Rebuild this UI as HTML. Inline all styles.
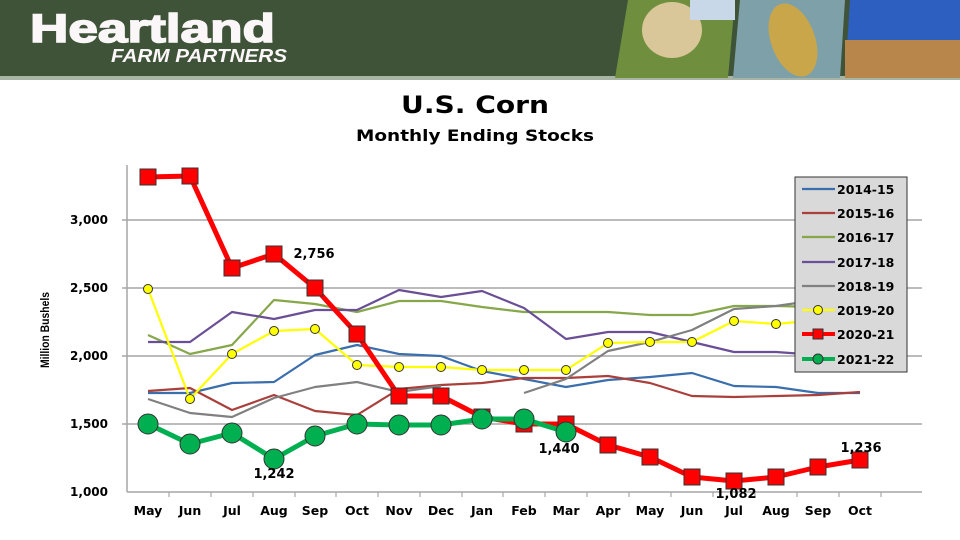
<!DOCTYPE html>
<html><head><meta charset="utf-8"><style>
body{margin:0;width:960px;height:540px;overflow:hidden;background:#fff;font-family:"DejaVu Sans",sans-serif}
</style></head><body>
<svg width="960" height="540" xmlns="http://www.w3.org/2000/svg" style="position:absolute;left:0;top:0" font-family="'DejaVu Sans',sans-serif">
<rect x="0" y="0" width="960" height="78" fill="#3f5339"/>
<rect x="0" y="76" width="960" height="4" fill="#a9b5a4"/>
<polygon points="628,0 735,0 728,78 615,78" fill="#6f8f3e"/>
<ellipse cx="672" cy="30" rx="30" ry="28" fill="#d9c79a"/>
<rect x="690" y="0" width="45" height="20" fill="#c9d8e8"/>
<polygon points="740,0 845,0 840,78 733,78" fill="#7ea0a8"/>
<ellipse cx="793" cy="40" rx="22" ry="38" fill="#c9a64a" transform="rotate(-20 793 40)"/>
<polygon points="850,0 960,0 960,78 845,78" fill="#2d5fc0"/>
<rect x="845" y="40" width="115" height="38" fill="#b8864a"/>
<text x="30" y="42" font-size="40" font-weight="bold" fill="#fbf7f9" stroke="#fbf7f9" stroke-width="1.5" font-family="'Liberation Sans',sans-serif" textLength="245" lengthAdjust="spacingAndGlyphs">Heartland</text>
<text x="111" y="62" font-size="18" font-weight="bold" font-style="italic" fill="#fbf7f9" font-family="'Liberation Sans',sans-serif" textLength="176" lengthAdjust="spacingAndGlyphs">FARM PARTNERS</text>
<text x="475" y="113" font-size="24" font-weight="bold" text-anchor="middle" fill="#000" textLength="148" lengthAdjust="spacingAndGlyphs">U.S. Corn</text>
<text x="475" y="141" font-size="16" font-weight="bold" text-anchor="middle" fill="#000" textLength="238" lengthAdjust="spacingAndGlyphs">Monthly Ending Stocks</text>
<g stroke="#a6a6a6" stroke-width="1.5">
<line x1="122" y1="220" x2="922" y2="220"/><line x1="122" y1="288" x2="922" y2="288"/>
<line x1="122" y1="356" x2="922" y2="356"/><line x1="122" y1="424" x2="922" y2="424"/>
<line x1="127" y1="165" x2="127" y2="492"/><line x1="127" y1="492" x2="922" y2="492"/>
</g>
<g stroke="#a6a6a6" stroke-width="1.2">
<line x1="169" y1="492" x2="169" y2="497"/><line x1="211" y1="492" x2="211" y2="497"/><line x1="253" y1="492" x2="253" y2="497"/><line x1="295" y1="492" x2="295" y2="497"/><line x1="336" y1="492" x2="336" y2="497"/><line x1="378" y1="492" x2="378" y2="497"/><line x1="420" y1="492" x2="420" y2="497"/><line x1="462" y1="492" x2="462" y2="497"/><line x1="503" y1="492" x2="503" y2="497"/><line x1="545" y1="492" x2="545" y2="497"/><line x1="587" y1="492" x2="587" y2="497"/><line x1="629" y1="492" x2="629" y2="497"/><line x1="671" y1="492" x2="671" y2="497"/><line x1="713" y1="492" x2="713" y2="497"/><line x1="755" y1="492" x2="755" y2="497"/><line x1="797" y1="492" x2="797" y2="497"/><line x1="839" y1="492" x2="839" y2="497"/><line x1="881" y1="492" x2="881" y2="497"/>
</g>
<g font-size="12" font-weight="bold" text-anchor="end" fill="#000">
<text x="108" y="224">3,000</text><text x="108" y="292">2,500</text><text x="108" y="360">2,000</text><text x="108" y="428">1,500</text><text x="108" y="496">1,000</text>
</g>
<text transform="translate(49,330) rotate(-90)" font-size="12" font-weight="bold" text-anchor="middle" font-family="'Liberation Sans',sans-serif" textLength="76" lengthAdjust="spacingAndGlyphs">Million Bushels</text>
<g font-size="12.5" font-weight="bold" text-anchor="middle">
<text x="148" y="515">May</text><text x="190" y="515">Jun</text><text x="232" y="515">Jul</text><text x="274" y="515">Aug</text><text x="315" y="515">Sep</text><text x="357" y="515">Oct</text><text x="399" y="515">Nov</text><text x="441" y="515">Dec</text><text x="482" y="515">Jan</text><text x="524" y="515">Feb</text><text x="566" y="515">Mar</text><text x="608" y="515">Apr</text><text x="650" y="515">May</text><text x="692" y="515">Jun</text><text x="734" y="515">Jul</text><text x="776" y="515">Aug</text><text x="818" y="515">Sep</text><text x="860" y="515">Oct</text>
</g>
<g fill="none" stroke-width="2.2" stroke-linejoin="round">
<polyline stroke="#3b6eac" points="148,393 190,393 232,383 274,382 315,355 357,345 399,354 441,356 482,371 524,379 566,387 608,380 650,377 692,373 734,386 776,387 818,393 860,393"/>
<polyline stroke="#a9403c" points="148,391 190,388 232,410 274,395 315,411 357,415 399,389 441,385 482,383 524,378 566,378 608,376 650,383 692,396 734,397 776,396 818,395 860,392"/>
<polyline stroke="#86a74a" points="148,335 190,354 232,345 274,300 315,304 357,312 399,301 441,301 482,307 524,312 566,312 608,312 650,315 692,315 734,306 776,306 818,307"/>
<polyline stroke="#6a4f96" points="148,342 190,342 232,312 274,319 315,310 357,310 399,290 441,297 482,291 524,308 566,339 608,332 650,332 692,342 734,352 776,352 818,355"/>
<polyline stroke="#808080" points="148,399 190,413 232,417 274,398 315,387 357,382 399,392 441,386"/>
<polyline stroke="#808080" points="524,393 566,379 608,351 650,342 692,330 734,309 776,306 818,300"/>
<polyline stroke="#ffff00" points="148,289 190,399 232,354 274,331 315,329 357,365 399,367 441,367 482,370 524,370 566,370 608,343 650,342 692,342 734,321 776,324 818,320"/>
</g>
<g fill="#ffff00" stroke="#333" stroke-width="1">
<circle cx="148" cy="289" r="4.5"/><circle cx="190" cy="399" r="4.5"/><circle cx="232" cy="354" r="4.5"/><circle cx="274" cy="331" r="4.5"/><circle cx="315" cy="329" r="4.5"/><circle cx="357" cy="365" r="4.5"/><circle cx="399" cy="367" r="4.5"/><circle cx="441" cy="367" r="4.5"/><circle cx="482" cy="370" r="4.5"/><circle cx="524" cy="370" r="4.5"/><circle cx="566" cy="370" r="4.5"/><circle cx="608" cy="343" r="4.5"/><circle cx="650" cy="342" r="4.5"/><circle cx="692" cy="342" r="4.5"/><circle cx="734" cy="321" r="4.5"/><circle cx="776" cy="324" r="4.5"/>
</g>
<polyline fill="none" stroke="#ff0000" stroke-width="5" stroke-linejoin="round" points="148,177 190,176 232,268 274,254 315,288 357,334 399,396 441,396 482,417 524,424 566,424 608,445 650,457 692,477 734,481 776,477 818,467 860,460"/>
<g fill="#ff0000" stroke="#333" stroke-width="1">
<rect x="140" y="169" width="16" height="16"/><rect x="182" y="168" width="16" height="16"/><rect x="224" y="260" width="16" height="16"/><rect x="266" y="246" width="16" height="16"/><rect x="307" y="280" width="16" height="16"/><rect x="349" y="326" width="16" height="16"/><rect x="391" y="388" width="16" height="16"/><rect x="433" y="388" width="16" height="16"/><rect x="474" y="409" width="16" height="16"/><rect x="516" y="416" width="16" height="16"/><rect x="558" y="416" width="16" height="16"/><rect x="600" y="437" width="16" height="16"/><rect x="642" y="449" width="16" height="16"/><rect x="684" y="469" width="16" height="16"/><rect x="726" y="473" width="16" height="16"/><rect x="768" y="469" width="16" height="16"/><rect x="810" y="459" width="16" height="16"/><rect x="852" y="452" width="16" height="16"/>
</g>
<polyline fill="none" stroke="#00b050" stroke-width="5" stroke-linejoin="round" points="148,424 190,444 232,433 274,459 315,436 357,424 399,425 441,425 482,419 524,419 566,432"/>
<g fill="#00b050" stroke="#333" stroke-width="1">
<circle cx="148" cy="424" r="10"/><circle cx="190" cy="444" r="10"/><circle cx="232" cy="433" r="10"/><circle cx="274" cy="459" r="10"/><circle cx="315" cy="436" r="10"/><circle cx="357" cy="424" r="10"/><circle cx="399" cy="425" r="10"/><circle cx="441" cy="425" r="10"/><circle cx="482" cy="419" r="10"/><circle cx="524" cy="419" r="10"/><circle cx="566" cy="432" r="10"/>
</g>
<g font-size="13" font-weight="bold" text-anchor="middle" fill="#000">
<text x="314" y="258">2,756</text><text x="274" y="478">1,242</text><text x="559" y="453">1,440</text><text x="736" y="498">1,082</text><text x="861" y="452">1,236</text>
</g>
<rect x="795" y="177" width="112" height="195" fill="#d9d9d9" stroke="#333" stroke-width="1"/>
<g stroke-width="2.2">
<line x1="802" y1="189" x2="835" y2="189" stroke="#3b6eac"/>
<line x1="802" y1="213" x2="835" y2="213" stroke="#a9403c"/>
<line x1="802" y1="237" x2="835" y2="237" stroke="#86a74a"/>
<line x1="802" y1="262" x2="835" y2="262" stroke="#6a4f96"/>
<line x1="802" y1="286" x2="835" y2="286" stroke="#808080"/>
<line x1="802" y1="310" x2="835" y2="310" stroke="#ffff00"/>
<line x1="802" y1="334" x2="835" y2="334" stroke="#ff0000" stroke-width="4"/>
<line x1="802" y1="359" x2="835" y2="359" stroke="#00b050" stroke-width="4"/>
</g>
<circle cx="818" cy="310" r="4.5" fill="#ffff00" stroke="#333"/>
<rect x="813" y="329" width="10" height="10" fill="#ff0000" stroke="#333"/>
<circle cx="818" cy="359" r="5" fill="#00b050" stroke="#333"/>
<g font-size="12.5" font-weight="bold" fill="#000">
<text x="837" y="194">2014-15</text><text x="837" y="218">2015-16</text><text x="837" y="242">2016-17</text><text x="837" y="267">2017-18</text><text x="837" y="291">2018-19</text><text x="837" y="315">2019-20</text><text x="837" y="339">2020-21</text><text x="837" y="364">2021-22</text>
</g>
</svg>
</body></html>
